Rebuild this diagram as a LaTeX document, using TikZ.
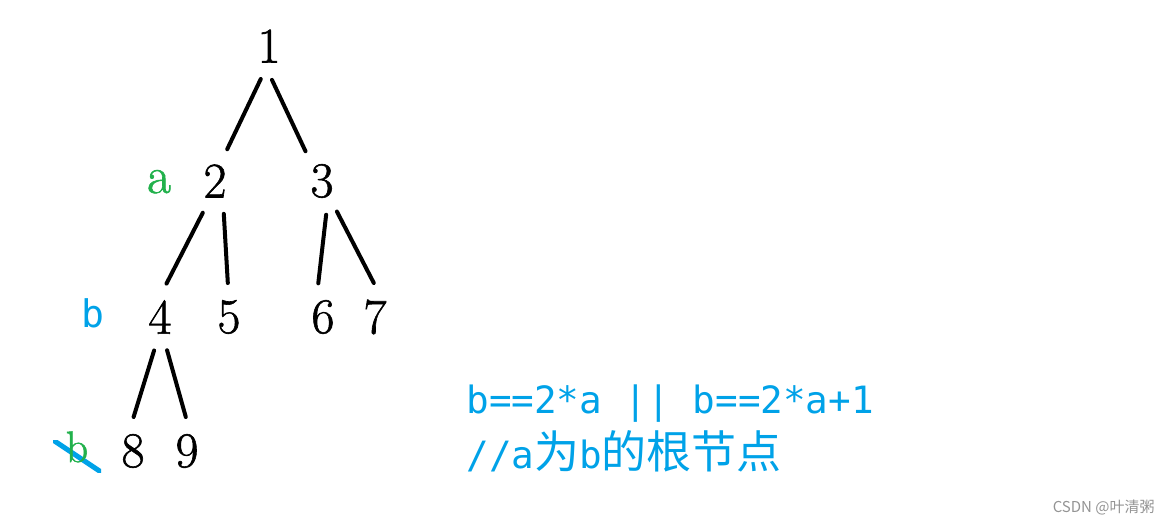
\documentclass[tikz,border=0pt]{standalone}
\usepackage{fontspec}
\usepackage{tikz}
\usetikzlibrary{positioning}
\newfontfamily\cjk{Noto Sans CJK SC}
\newfontfamily\codefont{DejaVu Sans Mono}
\newfontfamily\digitfont{Latin Modern Roman}[FakeBold=1.2]
\definecolor{paintgreen}{RGB}{34,177,76}
\definecolor{paintblue}{RGB}{0,162,232}
\tikzstyle{tnode}=[circle, minimum size=34pt, inner sep=0pt, outer sep=0pt, font=\digitfont\fontsize{25}{30}\selectfont]
\tikzstyle{tedge}=[line width=2pt, line cap=round]
\tikzset{struck/.style={inner sep=0pt, minimum width=24pt, text height=11pt, text depth=5pt,
    path picture={
        \draw[paintblue, line width=2.5pt, line cap=round]
        (path picture bounding box.north west) --
        (path picture bounding box.south east);
      }
    }
}

\begin{document}
\begin{tikzpicture}[x=0.5pt, y=-0.5pt]
          \useasboundingbox (0,0) rectangle (1170,523);
          \node[tnode] (n1) at (269,46){1};
          \node[tnode] (n2) at (215,181){2};
          \node[tnode] (n3) at (322,181){3};
          \node[tnode] (n4) at (160,317){4};
          \node[tnode] (n5) at (229,317){5};
          \node[tnode] (n6) at (323,317){6};
          \node[tnode] (n7) at (375,317){7};
          \node[tnode] (n8) at (133,451){8};
          \node[tnode] (n9) at (187,451){9};
          \draw[tedge](n1.256) -- (n2.69);
          \draw[tedge](n1.275) -- (n3.119);
          \draw[tedge](n2.249) -- (n4.79);
          \draw[tedge](n2.285) -- (n5.92);
          \draw[tedge](n3.277) -- (n6.98);
          \draw[tedge](n3.296) -- (n7.92);
          \draw[tedge](n4.260) -- (n8.89);
          \draw[tedge](n4.282) -- (n9.92);
          % labels beside the levels
          \node[anchor=base, inner sep=0pt, text=paintgreen, font=\digitfont\fontsize{26}{30}\selectfont] (la) at (159,193){a};
          \node[anchor=base, inner sep=0pt, text=paintblue, font=\codefont\fontsize{19}{22}\selectfont] (lb) at (93,327){b};
          \node[anchor=base, struck, text=paintgreen, font=\digitfont\fontsize{22}{25}\selectfont] (lbx) at (77,462){b};
          % rule for the parent
          \node[anchor=base west, inner sep=0pt, text=paintblue, font=\codefont\fontsize{18.8}{22}\selectfont] (rule) at (466,413){b==2*a || b==2*a+1};
          \node[anchor=base west, inner sep=0pt, text=paintblue, font=\fontsize{18.8}{22}\selectfont] (note) at (466,468){\codefont //a\cjk\fontsize{22.5}{26}\selectfont 为\codefont\fontsize{18.8}{22}\selectfont b\cjk\fontsize{22.5}{26}\selectfont 的根节点};
          \node[anchor=base east, inner sep=0pt, text=black!42, font=\cjk\fontsize{7.5}{9}\selectfont] (mark) at (1155,512){CSDN @叶清粥};
        \end{tikzpicture}
\end{document}
